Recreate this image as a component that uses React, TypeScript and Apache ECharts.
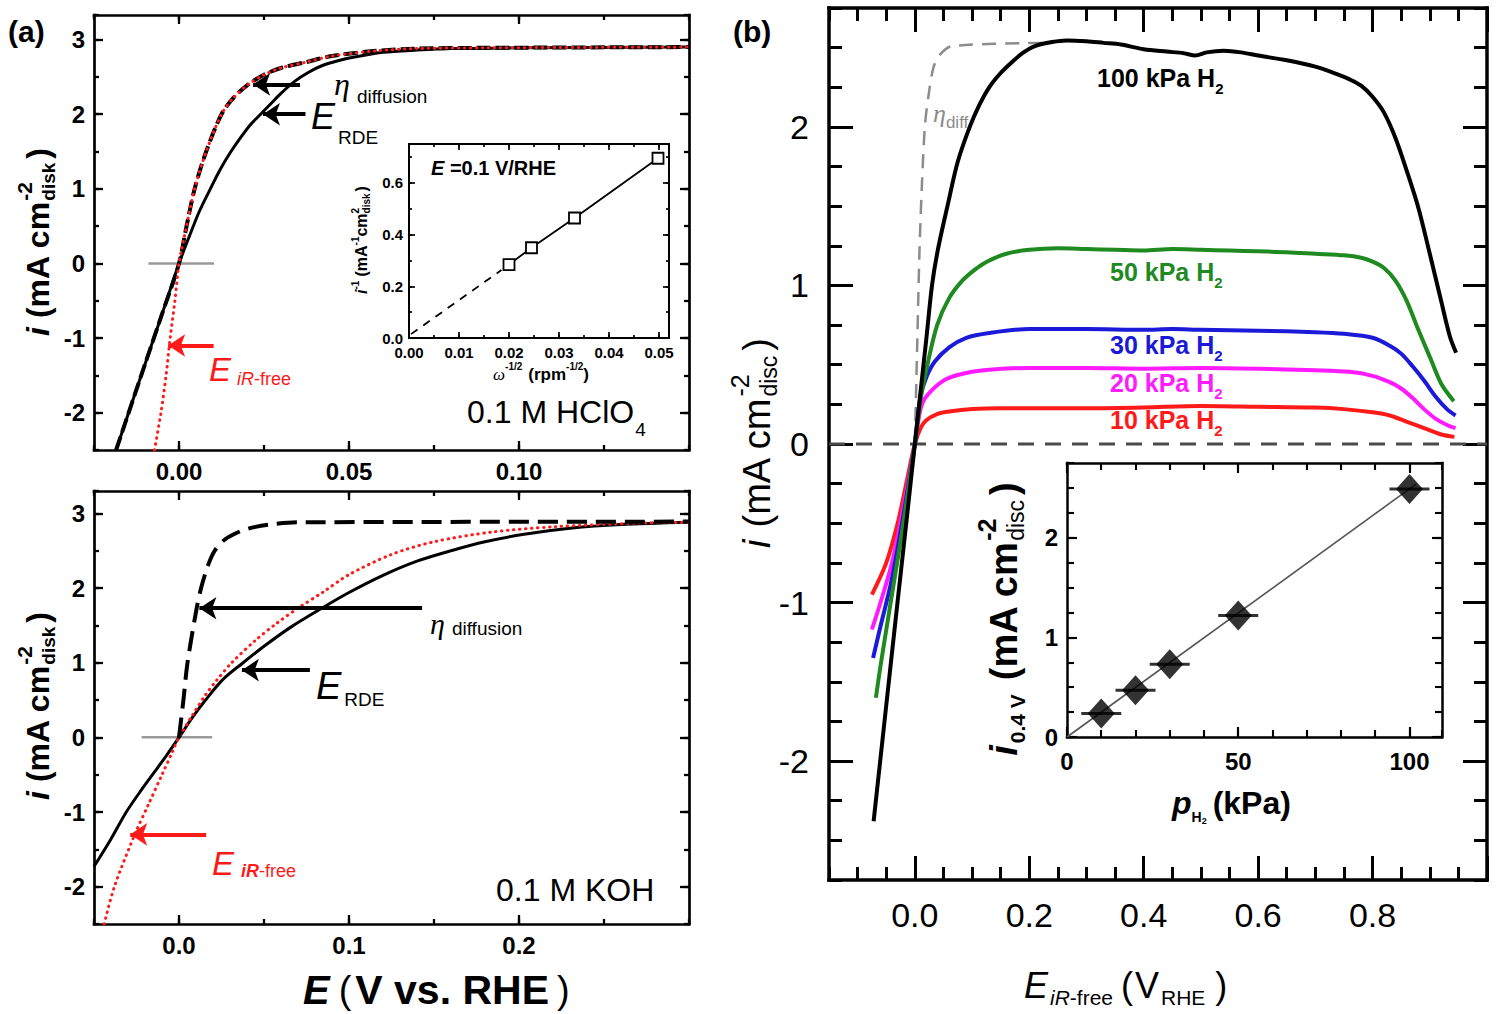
import React, { useEffect, useRef } from 'react';
import * as echarts from 'echarts';

type Pt = [number, number];

const SANS = '"Liberation Sans", Arial, Helvetica, sans-serif';
const SERIF = '"Liberation Serif", "DejaVu Serif", serif';

// ---------- (a) upper: 0.1 M HClO4 ----------
const acidRde: Pt[] = [[-0.0185, -2.5], [-0.01, -1.35], [-0.005, -0.68], [0, 0], [0.003, 0.36], [0.006, 0.7], [0.009, 0.98], [0.012, 1.25], [0.015, 1.48], [0.018, 1.68], [0.021, 1.86], [0.024, 2.0], [0.027, 2.14], [0.03, 2.28], [0.034, 2.44], [0.038, 2.56], [0.042, 2.65], [0.047, 2.72], [0.052, 2.77], [0.06, 2.83], [0.07, 2.86], [0.08, 2.88], [0.1, 2.89], [0.15, 2.9]];
const acidDiffusion: Pt[] = [[-0.0185, -2.5], [-0.01, -1.35], [-0.005, -0.68], [0, 0], [0.002, 0.45], [0.0046, 1.0], [0.008, 1.5], [0.0125, 2.0], [0.016, 2.22], [0.0204, 2.4], [0.025, 2.53], [0.03, 2.62], [0.0375, 2.7], [0.045, 2.78], [0.058, 2.85], [0.07, 2.88], [0.09, 2.89], [0.15, 2.9]];
const acidIrFree: Pt[] = [[-0.0072, -2.5], [-0.0053, -2.0], [-0.0038, -1.5], [-0.0026, -1.0], [-0.0012, -0.5], [0, 0], [0.002, 0.45], [0.0046, 1.0], [0.008, 1.5], [0.0125, 2.0], [0.016, 2.22], [0.0204, 2.4], [0.025, 2.53], [0.03, 2.62], [0.0375, 2.7], [0.045, 2.78], [0.058, 2.85], [0.07, 2.88], [0.09, 2.89], [0.15, 2.9]];
const acidZeroMark: Pt[] = [[-0.009, 0], [0.0103, 0]];
// [tail x, tip x, y]
const acidArrowsBlack: number[][] = [[0.0356, 0.0218, 2.4], [0.0372, 0.0247, 2.0]];
const acidArrowsRed: number[][] = [[0.0102, -0.0032, -1.1]];

// inset: inverse current vs omega^-1/2
const kouteckyPts: Pt[] = [[0.02, 0.284], [0.0245, 0.349], [0.0331, 0.464], [0.0498, 0.695]];
const kouteckyExtrap: Pt[] = [[0.0004, 0.015], [0.0185, 0.263]];

// ---------- (a) lower: 0.1 M KOH ----------
const baseRde: Pt[] = [[-0.05, -1.73], [-0.04, -1.36], [-0.031, -1.0], [-0.022, -0.7], [-0.0143, -0.46], [-0.007, -0.23], [0, 0], [0.008, 0.27], [0.0156, 0.5], [0.026, 0.78], [0.0377, 1.0], [0.05, 1.22], [0.066, 1.48], [0.084, 1.73], [0.1, 1.94], [0.12, 2.17], [0.14, 2.36], [0.16, 2.5], [0.18, 2.62], [0.203, 2.72], [0.23, 2.8], [0.26, 2.85], [0.3, 2.88]];
const baseIrFree: Pt[] = [[-0.044, -2.5], [-0.038, -2.0], [-0.026, -1.3], [-0.018, -0.9], [-0.01, -0.5], [-0.004, -0.2], [0, 0], [0.008, 0.3], [0.015, 0.55], [0.022, 0.76], [0.031, 1.0], [0.045, 1.3], [0.057, 1.52], [0.07, 1.73], [0.085, 1.95], [0.1, 2.18], [0.125, 2.45], [0.15, 2.62], [0.184, 2.75], [0.22, 2.82], [0.27, 2.87], [0.3, 2.88]];
const baseDiffusion: Pt[] = [[0, 0], [0.0026, 0.5], [0.005, 1.0], [0.0104, 1.73], [0.013, 2.0], [0.017, 2.3], [0.021, 2.5], [0.027, 2.65], [0.036, 2.76], [0.045, 2.82], [0.057, 2.86], [0.07, 2.88], [0.3, 2.89]];
const baseZeroMark: Pt[] = [[-0.022, 0], [0.0195, 0]];
const baseArrowsBlack: number[][] = [[0.143, 0.012, 1.73], [0.077, 0.037, 0.9]];
const baseArrowsRed: number[][] = [[0.016, -0.0287, -1.3]];

// ---------- (b) H2 partial pressure series ----------
const h2At100: Pt[] = [[-0.072, -2.38], [-0.05, -1.65], [-0.03, -0.99], [-0.015, -0.5], [0, 0], [0.01, 0.33], [0.02, 0.66], [0.03, 1.0], [0.04, 1.22], [0.057, 1.5], [0.075, 1.78], [0.096, 2.0], [0.113, 2.14], [0.13, 2.25], [0.15, 2.34], [0.17, 2.41], [0.19, 2.47], [0.21, 2.51], [0.24, 2.535], [0.265, 2.545], [0.3, 2.54], [0.33, 2.53], [0.36, 2.52], [0.4, 2.49], [0.44, 2.475], [0.47, 2.465], [0.49, 2.45], [0.51, 2.47], [0.54, 2.48], [0.57, 2.47], [0.6, 2.45], [0.65, 2.42], [0.7, 2.38], [0.74, 2.33], [0.76, 2.3], [0.78, 2.26], [0.8, 2.19], [0.82, 2.09], [0.84, 1.93], [0.86, 1.72], [0.88, 1.49], [0.9, 1.2], [0.92, 0.9], [0.935, 0.68], [0.946, 0.575]];
const h2At50: Pt[] = [[-0.068, -1.6], [-0.06, -1.4], [-0.04, -0.95], [-0.02, -0.5], [0, 0], [0.01, 0.28], [0.022, 0.5], [0.039, 0.75], [0.06, 0.92], [0.083, 1.03], [0.105, 1.1], [0.126, 1.15], [0.16, 1.2], [0.2, 1.225], [0.25, 1.235], [0.3, 1.23], [0.35, 1.225], [0.4, 1.22], [0.45, 1.23], [0.5, 1.225], [0.55, 1.22], [0.6, 1.215], [0.65, 1.21], [0.7, 1.2], [0.75, 1.19], [0.78, 1.175], [0.8, 1.15], [0.82, 1.11], [0.84, 1.03], [0.86, 0.9], [0.88, 0.72], [0.9, 0.55], [0.92, 0.38], [0.942, 0.27]];
const h2At30: Pt[] = [[-0.073, -1.35], [-0.06, -1.15], [-0.04, -0.85], [-0.02, -0.45], [0, 0], [0.01, 0.3], [0.02, 0.42], [0.035, 0.52], [0.06, 0.61], [0.09, 0.67], [0.13, 0.7], [0.2, 0.725], [0.3, 0.725], [0.4, 0.72], [0.45, 0.725], [0.5, 0.72], [0.6, 0.715], [0.7, 0.705], [0.75, 0.695], [0.8, 0.67], [0.83, 0.62], [0.85, 0.57], [0.87, 0.49], [0.89, 0.4], [0.91, 0.3], [0.93, 0.22], [0.945, 0.18]];
const h2At20: Pt[] = [[-0.075, -1.17], [-0.06, -1.0], [-0.04, -0.75], [-0.02, -0.4], [0, 0], [0.01, 0.22], [0.02, 0.3], [0.05, 0.4], [0.08, 0.44], [0.12, 0.465], [0.2, 0.48], [0.3, 0.48], [0.4, 0.475], [0.5, 0.48], [0.6, 0.475], [0.7, 0.465], [0.76, 0.455], [0.8, 0.43], [0.83, 0.39], [0.85, 0.35], [0.87, 0.29], [0.89, 0.22], [0.91, 0.16], [0.93, 0.12], [0.945, 0.1]];
const h2At10: Pt[] = [[-0.075, -0.95], [-0.05, -0.75], [-0.03, -0.5], [-0.015, -0.25], [0, 0], [0.01, 0.1], [0.02, 0.15], [0.04, 0.19], [0.06, 0.205], [0.1, 0.22], [0.15, 0.225], [0.2, 0.225], [0.3, 0.225], [0.4, 0.23], [0.5, 0.24], [0.6, 0.235], [0.7, 0.23], [0.75, 0.22], [0.8, 0.2], [0.83, 0.18], [0.86, 0.14], [0.89, 0.1], [0.92, 0.06], [0.943, 0.045]];
const h2Diffusion: Pt[] = [[0, 0], [0.004, 0.6], [0.008, 1.2], [0.012, 1.6], [0.0175, 2.0], [0.024, 2.2], [0.033, 2.38], [0.045, 2.46], [0.065, 2.51], [0.235, 2.53]];
const h2Zero: Pt[] = [[-0.15, 0], [1.0, 0]];

// inset: current at 0.4 V vs H2 partial pressure
const pressureKPa = [10, 20, 30, 50, 100];
const currentAt04V = [0.235, 0.47, 0.73, 1.22, 2.49];
const pressureFit: Pt[] = [[0, 0], [102, 2.54]];

const RED = '#ff1a1a';
const GREEN = '#1f8a1f';
const BLUE = '#1a1ad8';
const MAGENTA = '#ff1aff';

interface AxisSpec {
  min: number; max: number; step: number;
  major: number[]; labels: number[];
  fmt: (v: number) => string;
  font: number; bold: boolean; margin: number;
  minorLen: number; majorLen: number; lw: number;
}

// four axes per side pair: main (line, short ticks, labels) + overlay (long ticks) on each side
function axisSet(grid: number, s: AxisSpec, sides: [string, string]) {
  const common = { type: 'value', gridIndex: grid, min: s.min, max: s.max, splitLine: { show: false }, silent: true };
  const line = (show: boolean) => ({ show, onZero: false, lineStyle: { color: '#000', width: s.lw, cap: 'square' } });
  const tick = (len: number, extra: object) => ({
    show: true, inside: true, length: len,
    lineStyle: { color: '#000', width: Math.max(1.5, s.lw * 0.85) }, ...extra,
  });
  const label = {
    show: true, customValues: s.labels, formatter: s.fmt, color: '#000',
    fontSize: s.font, fontWeight: s.bold ? 'bold' : 'normal', fontFamily: SANS, margin: s.margin,
  };
  return [
    { ...common, position: sides[0], interval: s.step, axisLine: line(true), axisTick: tick(s.minorLen, {}), axisLabel: label },
    { ...common, position: sides[0], axisLine: line(false), axisTick: tick(s.majorLen, { customValues: s.major }), axisLabel: { show: false } },
    { ...common, position: sides[1], interval: s.step, axisLine: line(true), axisTick: tick(s.minorLen, {}), axisLabel: { show: false } },
    { ...common, position: sides[1], axisLine: line(false), axisTick: tick(s.majorLen, { customValues: s.major }), axisLabel: { show: false } },
  ];
}

const f0 = (v: number) => String(Math.round(v));
const f1 = (v: number) => v.toFixed(1);
const f2 = (v: number) => v.toFixed(2);

type Tok = { t: string; size: number; b?: boolean; i?: boolean; serif?: boolean; dy?: number; gap?: number; stack?: boolean; fill?: string };

let measureCtx: CanvasRenderingContext2D | null = null;
function fontOf(k: Tok) {
  return `${k.i ? 'italic ' : ''}${k.b ? 'bold ' : ''}${k.size}px ${k.serif ? SERIF : SANS}`;
}
function measure(k: Tok) {
  if (!measureCtx) measureCtx = document.createElement('canvas').getContext('2d');
  measureCtx!.font = fontOf(k);
  return measureCtx!.measureText(k.t).width;
}

// a line of mixed-size text (sub/superscripts), optionally rotated to read upward
function run(x: number, y: number, toks: Tok[], opts: { fill?: string; rotate?: boolean; center?: boolean } = {}) {
  let cursor = 0;
  let lastStart = 0;
  const placed: { k: Tok; start: number }[] = [];
  for (const k of toks) {
    const w = measure(k);
    const start = k.stack ? lastStart : cursor + (k.gap ?? 0);
    if (!k.stack) lastStart = start;
    placed.push({ k, start });
    cursor = Math.max(cursor, start + w);
  }
  const shift = opts.center ? -cursor / 2 : 0;
  return {
    type: 'group', x, y, rotation: opts.rotate ? Math.PI / 2 : 0, silent: true,
    children: placed.map(({ k, start }) => ({
      type: 'text', x: start + shift, y: k.dy ?? 0,
      style: {
        text: k.t, fill: k.fill ?? opts.fill ?? '#000',
        fontSize: k.size, fontFamily: k.serif ? SERIF : SANS,
        fontWeight: k.b ? 'bold' : 'normal', fontStyle: k.i ? 'italic' : 'normal',
        textAlign: 'left', textVerticalAlign: 'middle', align: 'left', verticalAlign: 'middle',
      },
    })),
  };
}

function curve(g: number, data: Pt[], color: string, width: number, type: any, extra: object = {}) {
  return {
    type: 'line', xAxisIndex: 4 * g, yAxisIndex: 4 * g, data, showSymbol: false, symbol: 'none',
    smooth: 0.3, silent: true,
    lineStyle: { color, width, type, cap: 'butt', join: 'round' }, ...extra,
  };
}

function arrowMarks(list: number[][], color: string) {
  return {
    silent: true, symbol: ['none', 'arrow'], symbolSize: 17, animation: false,
    label: { show: false },
    lineStyle: { color, width: 4, type: 'solid' },
    data: list.map((a) => [
      { coord: [a[0], a[2]], lineStyle: { color, width: 4, type: 'solid' }, itemStyle: { color } },
      { coord: [a[1], a[2]] },
    ]),
  };
}

function buildOption() {
  const grids = [
    { left: 94, top: 15, width: 595, height: 435 },
    { left: 94, top: 491, width: 595, height: 433 },
    { left: 829, top: 8, width: 658, height: 872 },
    { left: 409, top: 144, width: 260, height: 194 },
    { left: 1067, top: 463, width: 375, height: 274 },
  ].map((g) => ({ ...g, containLabel: false, outerBoundsMode: 'none', show: false }));

  const leftY: Omit<AxisSpec, 'max'> = {
    min: -2.5, step: 0.5, major: [-2, -1, 0, 1, 2, 3], labels: [-2, -1, 0, 1, 2, 3], fmt: f0,
    font: 24, bold: true, margin: 9, minorLen: 5, majorLen: 9, lw: 2.7,
  };
  const xAxes = [
    ...axisSet(0, { min: -0.025, max: 0.15, step: 0.025, major: [0, 0.05, 0.1], labels: [0, 0.05, 0.1], fmt: f2, font: 24, bold: true, margin: 9, minorLen: 5, majorLen: 9, lw: 2.7 }, ['bottom', 'top']),
    ...axisSet(1, { min: -0.05, max: 0.3, step: 0.05, major: [0, 0.1, 0.2], labels: [0, 0.1, 0.2], fmt: f1, font: 24, bold: true, margin: 9, minorLen: 5, majorLen: 9, lw: 2.7 }, ['bottom', 'top']),
    ...axisSet(2, { min: -0.15, max: 1.0, step: 0.05, major: [0, 0.2, 0.4, 0.6, 0.8, 1.0], labels: [0, 0.2, 0.4, 0.6, 0.8], fmt: f1, font: 34, bold: false, margin: 18, minorLen: 13, majorLen: 24, lw: 3.5 }, ['bottom', 'top']),
    ...axisSet(3, { min: 0, max: 0.052, step: 0.005, major: [0, 0.01, 0.02, 0.03, 0.04, 0.05], labels: [0, 0.01, 0.02, 0.03, 0.04, 0.05], fmt: f2, font: 15, bold: true, margin: 7, minorLen: 3, majorLen: 6, lw: 2 }, ['bottom', 'top']),
    ...axisSet(4, { min: 0, max: 109.5, step: 10, major: [0, 50, 100], labels: [0, 50, 100], fmt: f0, font: 24, bold: true, margin: 12, minorLen: 7, majorLen: 10, lw: 2.5 }, ['bottom', 'top']),
  ];
  const yAxes = [
    ...axisSet(0, { ...leftY, max: 3.33 }, ['left', 'right']),
    ...axisSet(1, { ...leftY, max: 3.3 }, ['left', 'right']),
    ...axisSet(2, { min: -2.75, max: 2.75, step: 0.25, major: [-2, -1, 0, 1, 2], labels: [-2, -1, 0, 1, 2], fmt: f0, font: 34, bold: false, margin: 20, minorLen: 13, majorLen: 24, lw: 3.5 }, ['left', 'right']),
    ...axisSet(3, { min: 0, max: 0.75, step: 0.1, major: [0, 0.2, 0.4, 0.6], labels: [0, 0.2, 0.4, 0.6], fmt: f1, font: 15, bold: true, margin: 6, minorLen: 3, majorLen: 6, lw: 2 }, ['left', 'right']),
    ...axisSet(4, { min: 0, max: 2.75, step: 0.25, major: [0, 1, 2], labels: [0, 1, 2], fmt: f0, font: 24, bold: true, margin: 9, minorLen: 7, majorLen: 10, lw: 2.5 }, ['left', 'right']),
  ];

  const dots = [0.5, 5.5];
  const series: any[] = [
    // (a) upper
    curve(0, acidZeroMark, '#9a9a9a', 2.5, 'solid', { smooth: false, markLine: arrowMarks(acidArrowsBlack, '#000') }),
    curve(0, acidRde, '#000', 3, 'solid'),
    curve(0, acidDiffusion, '#000', 4, [14, 5]),
    curve(0, acidIrFree, RED, 3, dots, { lineStyle: { color: RED, width: 3, type: dots, cap: 'round' }, markLine: arrowMarks(acidArrowsRed, RED) }),
    // (a) lower
    curve(1, baseZeroMark, '#9a9a9a', 2.5, 'solid', { smooth: false, markLine: arrowMarks(baseArrowsBlack, '#000') }),
    curve(1, baseRde, '#000', 3, 'solid'),
    curve(1, baseIrFree, RED, 3, dots, { lineStyle: { color: RED, width: 3, type: dots, cap: 'round' }, markLine: arrowMarks(baseArrowsRed, RED) }),
    curve(1, baseDiffusion, '#000', 4, [20, 9]),
    // (b)
    curve(2, h2Zero, '#4a4a4a', 3, [16, 11], { smooth: false }),
    curve(2, h2Diffusion, '#8c8c8c', 2.5, [14, 9]),
    curve(2, h2At10, RED, 4, 'solid'),
    curve(2, h2At20, MAGENTA, 4, 'solid'),
    curve(2, h2At30, BLUE, 4, 'solid'),
    curve(2, h2At50, GREEN, 4, 'solid'),
    curve(2, h2At100, '#000', 4, 'solid'),
    // (a) inset
    curve(3, kouteckyExtrap, '#000', 1.8, [8, 7], { smooth: false }),
    {
      type: 'line', xAxisIndex: 12, yAxisIndex: 12, data: kouteckyPts, silent: true,
      symbol: 'rect', symbolSize: 11, showSymbol: true,
      lineStyle: { color: '#000', width: 1.8 },
      itemStyle: { color: '#fff', borderColor: '#000', borderWidth: 1.8 },
    },
    // (b) inset
    curve(4, pressureFit, '#555', 1.6, 'solid', { smooth: false }),
    {
      type: 'scatter', xAxisIndex: 16, yAxisIndex: 16, silent: true,
      data: pressureKPa.map((p, k) => [p, currentAt04V[k]]),
      symbol: 'rect', symbolSize: [40, 3], itemStyle: { color: '#000' }, z: 3,
    },
    {
      type: 'scatter', xAxisIndex: 16, yAxisIndex: 16, silent: true,
      data: pressureKPa.map((p, k) => [p, currentAt04V[k]]),
      symbol: 'diamond', symbolSize: [27, 30], itemStyle: { color: '#000' }, z: 4,
    },
  ];

  const yTitleLeft = (cy: number) => run(38, cy, [
    { t: 'i', size: 32, i: true, b: true },
    { t: '(mA cm', size: 32, b: true, gap: 9 },
    { t: '-2', size: 21, b: true, dy: -14 },
    { t: 'disk', size: 19, b: true, dy: 10, stack: true },
    { t: ')', size: 32, b: true, gap: 4 },
  ], { rotate: true, center: true });

  const graphic = [
    run(8, 31, [{ t: '(a)', size: 30, b: true }]),
    run(733, 31, [{ t: '(b)', size: 30, b: true }]),
    // (a) upper
    yTitleLeft(242),
    run(334, 84, [{ t: 'η', size: 32, i: true, serif: true }, { t: 'diffusion', size: 19, dy: 12, gap: 7 }]),
    run(311, 116, [{ t: 'E', size: 36, i: true }, { t: 'RDE', size: 19, dy: 21, gap: 3 }]),
    run(209, 369, [{ t: 'E', size: 33, i: true }, { t: 'iR', size: 18, i: true, dy: 10, gap: 6 }, { t: '-free', size: 18, dy: 10 }], { fill: RED }),
    run(467, 412, [{ t: '0.1 M HClO', size: 32 }, { t: '4', size: 19, dy: 17, gap: 1 }]),
    run(431, 168, [{ t: 'E', size: 20, i: true, b: true }, { t: ' =0.1 V/RHE', size: 20, b: true }]),
    run(361, 240, [
      { t: 'i', size: 16, i: true, b: true },
      { t: '-1', size: 10, b: true, dy: -6 },
      { t: '(mA', size: 16, b: true, gap: 4 },
      { t: '-1', size: 10, b: true, dy: -6 },
      { t: 'cm', size: 16, b: true },
      { t: '2', size: 10, b: true, dy: -6 },
      { t: 'disk', size: 10, b: true, dy: 5, stack: true },
      { t: ')', size: 16, b: true, gap: 2 },
    ], { rotate: true, center: true }),
    run(541, 374, [
      { t: 'ω', size: 17, i: true, serif: true },
      { t: '-1/2', size: 10, b: true, dy: -8 },
      { t: '(rpm', size: 17, b: true, gap: 6 },
      { t: '-1/2', size: 10, b: true, dy: -8 },
      { t: ')', size: 17, b: true },
    ], { center: true }),
    // (a) lower
    yTitleLeft(706),
    run(430, 623, [{ t: 'η', size: 30, i: true, serif: true }, { t: 'diffusion', size: 19, dy: 5, gap: 7 }]),
    run(316, 686, [{ t: 'E', size: 38, i: true }, { t: 'RDE', size: 19, dy: 13, gap: 3 }]),
    run(212, 863, [{ t: 'E', size: 33, i: true }, { t: 'iR', size: 18, i: true, b: true, dy: 8, gap: 7 }, { t: '-free', size: 18, dy: 8 }], { fill: RED }),
    run(496, 890, [{ t: '0.1 M KOH', size: 32 }]),
    run(303, 990, [
      { t: 'E', size: 40, i: true, b: true },
      { t: '(', size: 38, gap: 9 },
      { t: 'V vs. RHE', size: 41, b: true, gap: 4 },
      { t: ')', size: 38, gap: 8 },
    ]),
    // (b)
    run(757, 443, [
      { t: 'i', size: 38, i: true },
      { t: '(mA cm', size: 38, gap: 12 },
      { t: '-2', size: 25, dy: -17 },
      { t: 'disc', size: 23, dy: 12, stack: true },
      { t: ')', size: 38, gap: 5 },
    ], { rotate: true, center: true }),
    run(1024, 985, [
      { t: 'E', size: 36, i: true },
      { t: 'iR', size: 21, i: true, dy: 12, gap: 2 },
      { t: '-free', size: 21, dy: 12 },
      { t: '(', size: 36, gap: 8 },
      { t: 'V', size: 36, gap: 2 },
      { t: 'RHE', size: 21, dy: 12, gap: 2 },
      { t: ')', size: 36, gap: 10 },
    ]),
    run(1097, 78, [{ t: '100 kPa H', size: 25, b: true }, { t: '2', size: 15, b: true, dy: 10 }]),
    run(1110, 272, [{ t: '50 kPa H', size: 25, b: true }, { t: '2', size: 15, b: true, dy: 10 }], { fill: GREEN }),
    run(1110, 345, [{ t: '30 kPa H', size: 25, b: true }, { t: '2', size: 15, b: true, dy: 10 }], { fill: BLUE }),
    run(1110, 383, [{ t: '20 kPa H', size: 25, b: true }, { t: '2', size: 15, b: true, dy: 10 }], { fill: MAGENTA }),
    run(1110, 420, [{ t: '10 kPa H', size: 25, b: true }, { t: '2', size: 15, b: true, dy: 10 }], { fill: RED }),
    run(933, 113, [{ t: 'η', size: 26, i: true, serif: true }, { t: 'diff', size: 17, dy: 9 }], { fill: '#8c8c8c' }),
    // (b) inset
    run(1004, 619, [
      { t: 'i', size: 38, i: true, b: true },
      { t: '0.4 V', size: 21, b: true, dy: 13, gap: 2 },
      { t: '(mA cm', size: 38, b: true, gap: 14 },
      { t: '-2', size: 25, b: true, dy: -17 },
      { t: 'disc', size: 23, dy: 12, stack: true },
      { t: ')', size: 38, b: true, gap: 5 },
    ], { rotate: true, center: true }),
    run(1172, 803, [
      { t: 'p', size: 32, i: true, b: true },
      { t: 'H', size: 14, b: true, dy: 14 },
      { t: '2', size: 9, b: true, dy: 18 },
      { t: '(kPa)', size: 32, b: true, gap: 6 },
    ]),
  ];

  return {
    animation: false,
    backgroundColor: '#ffffff',
    grid: grids,
    xAxis: xAxes,
    yAxis: yAxes,
    series,
    graphic,
  };
}

export default function App() {
  const ref = useRef<HTMLDivElement>(null);
  useEffect(() => {
    if (!ref.current) return;
    const chart = echarts.init(ref.current, null, { renderer: 'svg' });
    chart.setOption(buildOption() as any);
    return () => chart.dispose();
  }, []);
  return (
    <div
      ref={ref}
      style={{ position: 'fixed', left: 0, top: 0, width: 1498, height: 1014, background: '#fff' }}
    />
  );
}
